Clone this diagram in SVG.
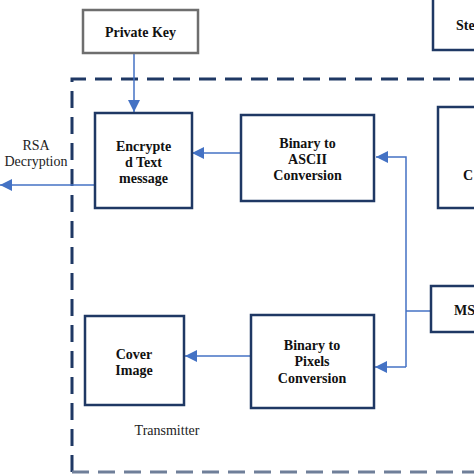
<svg xmlns="http://www.w3.org/2000/svg" width="474" height="474" viewBox="0 0 474 474">
<style>
.box{fill:#fff;stroke:#1f3864;stroke-width:2.5}
.gbox{fill:#fff;stroke:#6e6e6e;stroke-width:2.5}
.t{font-family:"Liberation Serif","Times New Roman",serif;font-size:14px;font-weight:bold;fill:#111;text-anchor:middle}
.r{font-family:"Liberation Serif","Times New Roman",serif;font-size:14px;fill:#222;text-anchor:middle}
.c{fill:none;stroke:#4472c4;stroke-width:1.5}
</style>
<defs>
<marker id="ah" viewBox="0 0 10 10" refX="10" refY="5" markerWidth="12" markerHeight="12" markerUnits="userSpaceOnUse" orient="auto">
<path d="M0,0 L10,5 L0,10 z" fill="#4472c4"/>
</marker>
</defs>
<rect width="474" height="474" fill="#fff"/>
<path d="M72,472 L72,79 L474,79" fill="none" stroke="#1f3864" stroke-width="3" stroke-dasharray="17,9"/>
<path d="M72,472 L474,472" fill="none" stroke="#6f7f99" stroke-width="3" stroke-dasharray="17,9"/>
<g id="connectors">
<path class="c" d="M134,53 L134,112" marker-end="url(#ah)"/>
<path class="c" d="M241,153 L192,153" marker-end="url(#ah)"/>
<path class="c" d="M95,185 L0,185" marker-end="url(#ah)"/>
<path class="c" d="M406,367 L406,157 L376,157" marker-end="url(#ah)"/>
<path class="c" d="M406,367 L375,367" marker-end="url(#ah)"/>
<path class="c" d="M406,311 L431,311"/>
<path class="c" d="M251,356 L185,356" marker-end="url(#ah)"/>
</g>
<g id="private-key">
<rect class="gbox" x="83" y="10" width="115" height="43"/>
<text class="t" x="140.5" y="37">Private Key</text>
</g>
<g id="encrypted">
<rect class="box" x="95" y="113" width="97" height="95"/>
<text class="t" x="143.5" y="151">Encrypte</text>
<text class="t" x="143.5" y="167">d Text</text>
<text class="t" x="143.5" y="183">message</text>
</g>
<g id="rsa-label">
<text class="r" x="36" y="150">RSA</text>
<text class="r" x="36" y="166">Decryption</text>
</g>
<g id="binary-ascii">
<rect class="box" x="241" y="115" width="133" height="86"/>
<text class="t" x="307.5" y="148">Binary to</text>
<text class="t" x="307.5" y="164">ASCII</text>
<text class="t" x="307.5" y="180">Conversion</text>
</g>
<g id="binary-pixels">
<rect class="box" x="251" y="315" width="123" height="93"/>
<text class="t" x="312" y="350">Binary to</text>
<text class="t" x="312" y="366">Pixels</text>
<text class="t" x="312" y="383">Conversion</text>
</g>
<g id="cover-image">
<rect class="box" x="85" y="316" width="99" height="89"/>
<text class="t" x="134" y="359">Cover</text>
<text class="t" x="134" y="375">Image</text>
</g>
<g id="transmitter">
<text class="r" x="167" y="435">Transmitter</text>
</g>
<g id="ste">
<rect class="box" x="433" y="-5" width="50" height="55"/>
<text class="t" x="456" y="30" text-anchor="start" style="text-anchor:start">Ste</text>
</g>
<g id="c-box">
<rect class="box" x="438" y="107" width="50" height="101"/>
<text class="t" x="463" y="180" style="text-anchor:start">C</text>
</g>
<g id="msb">
<rect class="box" x="431" y="286" width="50" height="46"/>
<text class="t" x="454" y="315" style="text-anchor:start">MS</text>
</g>
</svg>
